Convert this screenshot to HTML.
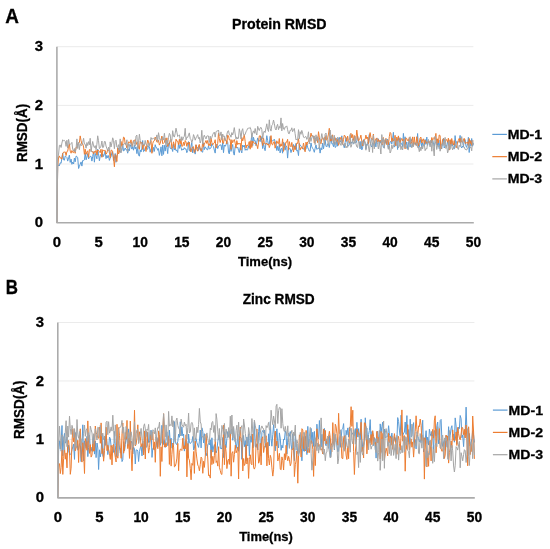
<!DOCTYPE html>
<html><head><meta charset="utf-8"><style>
html,body{margin:0;padding:0;background:#fff;}
svg{display:block;filter:blur(0.4px);}
</style></head><body>
<svg width="550" height="549" viewBox="0 0 550 549">
<rect width="550" height="549" fill="#fff"/>
<line x1="56.9" y1="164.03" x2="473.4" y2="164.03" stroke="#EBEBEB" stroke-width="1"/>
<line x1="56.9" y1="105.36" x2="473.4" y2="105.36" stroke="#EBEBEB" stroke-width="1"/>
<line x1="56.9" y1="46.69" x2="473.4" y2="46.69" stroke="#EBEBEB" stroke-width="1"/>
<polyline points="56.9,222.7 57.7,166.5 58.6,164.8 59.4,165.8 60.2,162.8 61.1,163.2 61.9,157.9 62.7,153.2 63.6,159.8 64.4,160.2 65.2,156.1 66.1,156.6 66.9,157.4 67.7,161.1 68.6,157.8 69.4,155.1 70.2,162.4 71.1,159.1 71.9,164.3 72.7,162.1 73.6,164.0 74.4,158.1 75.2,161.8 76.1,156.1 76.9,156.5 77.7,157.7 78.6,168.5 79.4,166.4 80.2,164.2 81.1,161.9 81.9,166.1 82.7,160.5 83.6,160.5 84.4,159.9 85.2,153.1 86.1,159.8 86.9,157.0 87.7,153.6 88.6,158.9 89.4,157.2 90.2,156.3 91.1,156.5 91.9,161.1 92.7,156.4 93.6,151.7 94.4,162.2 95.2,153.4 96.1,156.1 96.9,158.8 97.7,149.2 98.5,153.7 99.4,160.8 100.2,156.1 101.0,154.2 101.9,157.0 102.7,153.8 103.5,156.5 104.4,153.8 105.2,151.0 106.0,158.6 106.9,155.4 107.7,157.8 108.5,155.6 109.4,160.4 110.2,158.1 111.0,156.7 111.9,152.7 112.7,151.7 113.5,160.7 114.4,158.7 115.2,153.5 116.0,162.3 116.9,155.9 117.7,153.7 118.5,148.0 119.4,149.3 120.2,152.2 121.0,151.5 121.9,150.3 122.7,143.8 123.5,150.9 124.4,150.4 125.2,148.0 126.0,149.7 126.9,149.9 127.7,153.2 128.5,149.2 129.4,150.7 130.2,144.8 131.0,146.7 131.9,149.1 132.7,146.6 133.5,150.2 134.4,145.1 135.2,148.9 136.0,146.8 136.9,153.6 137.7,147.6 138.5,154.9 139.4,156.2 140.2,149.9 141.0,152.0 141.9,148.1 142.7,140.5 143.5,151.7 144.4,150.9 145.2,147.8 146.0,146.8 146.9,149.2 147.7,149.2 148.5,145.9 149.4,146.5 150.2,152.2 151.0,148.7 151.9,148.2 152.7,152.2 153.5,147.4 154.4,151.4 155.2,144.7 156.0,147.5 156.9,147.9 157.7,150.3 158.5,148.6 159.4,155.4 160.2,152.2 161.0,146.8 161.9,155.8 162.7,145.0 163.5,154.4 164.4,145.3 165.2,151.1 166.0,145.2 166.9,147.5 167.7,153.6 168.5,143.4 169.4,142.7 170.2,148.2 171.0,148.9 171.9,148.5 172.7,151.5 173.5,143.9 174.4,149.9 175.2,148.1 176.0,150.7 176.9,150.1 177.7,152.5 178.5,143.2 179.4,148.4 180.2,144.3 181.0,147.7 181.8,150.3 182.7,148.9 183.5,149.8 184.3,147.7 185.2,149.1 186.0,148.8 186.8,152.7 187.7,150.6 188.5,141.6 189.3,150.1 190.2,151.4 191.0,146.4 191.8,142.5 192.7,152.9 193.5,148.4 194.3,150.0 195.2,154.1 196.0,145.0 196.8,147.8 197.7,147.5 198.5,150.5 199.3,146.1 200.2,149.7 201.0,148.3 201.8,151.8 202.7,152.2 203.5,143.0 204.3,149.7 205.2,146.8 206.0,148.0 206.8,149.5 207.7,149.8 208.5,145.6 209.3,149.0 210.2,148.5 211.0,147.9 211.8,143.7 212.7,145.5 213.5,146.6 214.3,150.1 215.2,153.1 216.0,144.6 216.8,144.6 217.7,148.6 218.5,146.1 219.3,145.3 220.2,145.1 221.0,144.8 221.8,149.8 222.7,142.7 223.5,152.7 224.3,145.0 225.2,146.3 226.0,144.8 226.8,141.1 227.7,142.5 228.5,152.0 229.3,153.9 230.2,144.7 231.0,151.4 231.8,147.6 232.7,144.5 233.5,153.5 234.3,155.1 235.2,146.4 236.0,147.1 236.8,148.1 237.7,147.1 238.5,150.3 239.3,152.6 240.2,147.6 241.0,150.5 241.8,152.9 242.7,145.0 243.5,147.0 244.3,145.2 245.2,150.3 246.0,149.0 246.8,150.2 247.7,149.7 248.5,145.7 249.3,148.1 250.2,142.8 251.0,141.7 251.8,134.4 252.7,145.6 253.5,137.3 254.3,140.9 255.2,140.6 256.0,145.8 256.8,142.2 257.7,137.9 258.5,140.9 259.3,140.3 260.2,141.6 261.0,136.4 261.8,140.6 262.7,148.6 263.5,143.1 264.3,147.7 265.1,150.7 266.0,142.5 266.8,135.7 267.6,140.4 268.5,144.8 269.3,144.0 270.1,136.4 271.0,140.0 271.8,140.4 272.6,140.8 273.5,140.4 274.3,139.2 275.1,141.6 276.0,144.4 276.8,150.5 277.6,146.3 278.5,150.7 279.3,144.3 280.1,152.9 281.0,148.8 281.8,148.4 282.6,153.2 283.5,142.2 284.3,143.1 285.1,150.2 286.0,145.7 286.8,147.2 287.6,158.1 288.5,147.7 289.3,148.9 290.1,148.4 291.0,152.6 291.8,149.7 292.6,149.4 293.5,144.5 294.3,147.6 295.1,148.9 296.0,143.4 296.8,151.0 297.6,150.4 298.5,155.6 299.3,143.4 300.1,145.6 301.0,145.8 301.8,146.7 302.6,148.8 303.5,148.4 304.3,150.2 305.1,150.0 306.0,149.1 306.8,143.9 307.6,147.2 308.5,149.3 309.3,151.1 310.1,151.2 311.0,142.9 311.8,146.8 312.6,148.3 313.5,149.7 314.3,152.3 315.1,148.4 316.0,144.9 316.8,149.4 317.6,148.7 318.5,148.5 319.3,147.2 320.1,153.1 321.0,147.8 321.8,149.8 322.6,143.1 323.5,148.8 324.3,143.6 325.1,139.9 326.0,146.2 326.8,147.0 327.6,143.8 328.5,144.2 329.3,147.5 330.1,141.9 331.0,135.9 331.8,143.8 332.6,143.6 333.5,146.7 334.3,141.7 335.1,147.4 336.0,146.9 336.8,138.2 337.6,146.2 338.5,138.9 339.3,137.3 340.1,141.9 341.0,140.9 341.8,135.8 342.6,143.6 343.5,145.0 344.3,147.8 345.1,142.7 346.0,137.5 346.8,139.4 347.6,146.3 348.4,146.0 349.3,144.7 350.1,141.8 350.9,143.6 351.8,142.0 352.6,141.7 353.4,143.9 354.3,143.0 355.1,142.1 355.9,143.1 356.8,141.0 357.6,136.0 358.4,140.6 359.3,142.6 360.1,148.9 360.9,141.4 361.8,149.9 362.6,147.9 363.4,139.7 364.3,140.2 365.1,143.3 365.9,149.0 366.8,144.1 367.6,145.2 368.4,140.4 369.3,134.5 370.1,142.0 370.9,145.6 371.8,147.0 372.6,142.9 373.4,143.4 374.3,146.9 375.1,142.3 375.9,146.9 376.8,138.7 377.6,138.9 378.4,138.8 379.3,144.4 380.1,140.8 380.9,143.2 381.8,144.1 382.6,143.9 383.4,147.4 384.3,147.9 385.1,139.8 385.9,143.4 386.8,141.9 387.6,139.0 388.4,149.0 389.3,145.5 390.1,142.0 390.9,141.2 391.8,144.0 392.6,138.9 393.4,132.3 394.3,147.1 395.1,146.0 395.9,139.7 396.8,141.0 397.6,149.5 398.4,137.7 399.3,140.5 400.1,137.7 400.9,144.0 401.8,143.7 402.6,146.7 403.4,133.4 404.3,143.2 405.1,136.8 405.9,145.0 406.8,142.0 407.6,148.7 408.4,144.0 409.3,139.0 410.1,147.1 410.9,138.7 411.8,141.4 412.6,146.4 413.4,144.4 414.3,144.2 415.1,142.7 415.9,144.5 416.8,145.6 417.6,133.5 418.4,146.3 419.3,147.2 420.1,142.7 420.9,139.3 421.8,148.1 422.6,142.5 423.4,144.9 424.3,146.1 425.1,139.4 425.9,144.4 426.8,137.1 427.6,145.3 428.4,141.1 429.3,143.3 430.1,145.2 430.9,140.4 431.8,143.1 432.6,140.3 433.4,142.7 434.2,146.4 435.1,142.9 435.9,142.3 436.7,139.0 437.6,145.8 438.4,142.6 439.2,148.7 440.1,140.1 440.9,146.4 441.7,149.0 442.6,142.7 443.4,138.4 444.2,148.0 445.1,146.4 445.9,145.1 446.7,146.5 447.6,141.0 448.4,145.4 449.2,145.0 450.1,140.3 450.9,145.2 451.7,140.8 452.6,145.9 453.4,146.8 454.2,149.1 455.1,135.6 455.9,143.6 456.7,141.5 457.6,142.5 458.4,141.8 459.2,142.2 460.1,135.4 460.9,146.2 461.7,148.0 462.6,146.0 463.4,147.2 464.2,139.6 465.1,139.4 465.9,145.8 466.7,147.4 467.6,143.6 468.4,137.3 469.2,152.5 470.1,140.4 470.9,146.2 471.7,138.5 472.6,146.2 473.4,143.4" fill="none" stroke="#5B9BD5" stroke-width="1.0" stroke-linejoin="round" stroke-opacity="1"/>
<polyline points="56.9,222.7 57.7,166.9 58.6,157.1 59.4,155.9 60.2,158.2 61.1,157.7 61.9,159.2 62.7,153.6 63.6,152.1 64.4,152.1 65.2,151.9 66.1,155.5 66.9,151.5 67.7,151.2 68.6,146.2 69.4,144.0 70.2,151.1 71.1,153.2 71.9,150.5 72.7,152.3 73.6,152.6 74.4,149.9 75.2,153.3 76.1,147.2 76.9,147.4 77.7,143.8 78.6,143.0 79.4,142.6 80.2,135.9 81.1,140.8 81.9,144.3 82.7,143.8 83.6,147.0 84.4,154.3 85.2,149.2 86.1,154.4 86.9,151.9 87.7,150.8 88.6,157.4 89.4,149.6 90.2,149.5 91.1,150.7 91.9,151.7 92.7,151.6 93.6,153.9 94.4,151.4 95.2,152.6 96.1,150.3 96.9,155.1 97.7,150.0 98.5,150.4 99.4,151.5 100.2,152.7 101.0,149.2 101.9,157.3 102.7,149.7 103.5,150.6 104.4,150.5 105.2,150.3 106.0,154.1 106.9,152.8 107.7,149.6 108.5,150.5 109.4,151.4 110.2,157.7 111.0,150.3 111.9,150.2 112.7,153.0 113.5,158.0 114.4,166.8 115.2,154.7 116.0,155.8 116.9,161.5 117.7,148.0 118.5,154.0 119.4,152.4 120.2,149.2 121.0,141.4 121.9,146.5 122.7,143.3 123.5,137.1 124.4,137.7 125.2,143.9 126.0,144.4 126.9,148.1 127.7,146.0 128.5,141.9 129.4,142.0 130.2,143.0 131.0,139.8 131.9,146.2 132.7,143.6 133.5,140.7 134.4,141.3 135.2,139.5 136.0,141.9 136.9,144.5 137.7,142.1 138.5,147.0 139.4,149.3 140.2,141.2 141.0,143.5 141.9,142.2 142.7,149.5 143.5,144.6 144.4,145.5 145.2,146.4 146.0,151.5 146.9,144.5 147.7,140.0 148.5,141.9 149.4,145.4 150.2,143.3 151.0,140.5 151.9,153.3 152.7,143.7 153.5,141.2 154.4,140.7 155.2,137.0 156.0,139.1 156.9,142.1 157.7,142.1 158.5,140.3 159.4,145.1 160.2,143.3 161.0,139.9 161.9,136.0 162.7,143.7 163.5,143.3 164.4,142.4 165.2,138.2 166.0,143.2 166.9,137.8 167.7,146.6 168.5,143.8 169.4,143.8 170.2,140.2 171.0,139.3 171.9,148.5 172.7,146.4 173.5,141.8 174.4,145.4 175.2,148.6 176.0,139.2 176.9,141.2 177.7,141.2 178.5,144.7 179.4,139.2 180.2,143.9 181.0,139.0 181.8,146.3 182.7,146.1 183.5,142.2 184.3,145.5 185.2,140.5 186.0,142.0 186.8,146.3 187.7,142.7 188.5,144.2 189.3,142.0 190.2,150.1 191.0,151.9 191.8,148.4 192.7,147.1 193.5,146.7 194.3,152.5 195.2,150.7 196.0,144.6 196.8,149.4 197.7,151.2 198.5,146.0 199.3,144.4 200.2,148.6 201.0,151.2 201.8,150.0 202.7,142.0 203.5,146.7 204.3,144.1 205.2,142.4 206.0,140.5 206.8,143.5 207.7,140.5 208.5,145.5 209.3,143.6 210.2,146.0 211.0,138.1 211.8,142.4 212.7,144.9 213.5,143.5 214.3,143.0 215.2,139.7 216.0,148.0 216.8,146.0 217.7,143.5 218.5,132.9 219.3,138.7 220.2,142.5 221.0,139.5 221.8,134.6 222.7,142.9 223.5,143.4 224.3,137.7 225.2,140.3 226.0,139.6 226.8,143.9 227.7,135.0 228.5,135.8 229.3,139.9 230.2,139.5 231.0,149.4 231.8,139.7 232.7,142.7 233.5,140.4 234.3,139.5 235.2,143.2 236.0,148.1 236.8,140.6 237.7,144.6 238.5,143.1 239.3,144.1 240.2,143.1 241.0,150.2 241.8,137.4 242.7,140.9 243.5,137.8 244.3,134.6 245.2,141.7 246.0,148.3 246.8,145.0 247.7,146.1 248.5,143.6 249.3,141.5 250.2,149.2 251.0,140.7 251.8,147.5 252.7,141.0 253.5,142.6 254.3,143.4 255.2,142.6 256.0,144.4 256.8,144.7 257.7,148.7 258.5,142.8 259.3,136.0 260.2,135.6 261.0,138.1 261.8,140.4 262.7,145.5 263.5,137.9 264.3,143.4 265.1,143.6 266.0,144.4 266.8,143.1 267.6,145.1 268.5,143.9 269.3,147.6 270.1,145.1 271.0,135.6 271.8,144.2 272.6,144.9 273.5,142.1 274.3,141.5 275.1,148.2 276.0,144.9 276.8,140.8 277.6,143.2 278.5,143.7 279.3,138.5 280.1,146.7 281.0,143.9 281.8,146.1 282.6,138.8 283.5,151.4 284.3,146.7 285.1,146.2 286.0,141.9 286.8,142.1 287.6,139.3 288.5,150.1 289.3,141.6 290.1,145.4 291.0,146.8 291.8,142.4 292.6,147.8 293.5,152.0 294.3,145.8 295.1,149.9 296.0,146.8 296.8,143.1 297.6,143.4 298.5,138.7 299.3,145.3 300.1,150.1 301.0,147.3 301.8,147.9 302.6,149.0 303.5,143.0 304.3,147.0 305.1,151.8 306.0,142.1 306.8,145.1 307.6,142.0 308.5,141.5 309.3,138.1 310.1,138.9 311.0,133.1 311.8,136.1 312.6,136.2 313.5,136.1 314.3,142.9 315.1,138.2 316.0,138.6 316.8,136.9 317.6,142.6 318.5,131.7 319.3,137.2 320.1,142.0 321.0,143.8 321.8,138.7 322.6,138.0 323.5,140.2 324.3,137.3 325.1,140.0 326.0,135.6 326.8,140.3 327.6,137.8 328.5,134.1 329.3,128.3 330.1,141.3 331.0,139.3 331.8,140.7 332.6,134.8 333.5,141.8 334.3,139.4 335.1,137.7 336.0,141.2 336.8,141.1 337.6,139.4 338.5,145.3 339.3,142.9 340.1,139.1 341.0,137.2 341.8,138.5 342.6,144.3 343.5,139.6 344.3,135.1 345.1,136.0 346.0,138.4 346.8,141.4 347.6,136.0 348.4,140.5 349.3,142.7 350.1,141.4 350.9,133.3 351.8,137.9 352.6,134.5 353.4,140.5 354.3,135.5 355.1,141.1 355.9,139.6 356.8,130.1 357.6,136.4 358.4,141.1 359.3,139.6 360.1,138.2 360.9,135.1 361.8,141.3 362.6,145.9 363.4,140.7 364.3,139.7 365.1,139.4 365.9,135.1 366.8,138.8 367.6,137.1 368.4,144.1 369.3,137.0 370.1,132.6 370.9,137.5 371.8,139.5 372.6,139.9 373.4,134.1 374.3,143.9 375.1,141.0 375.9,138.9 376.8,137.9 377.6,142.2 378.4,139.5 379.3,141.7 380.1,140.2 380.9,141.2 381.8,144.9 382.6,140.8 383.4,137.5 384.3,144.3 385.1,141.6 385.9,138.4 386.8,144.7 387.6,140.1 388.4,144.7 389.3,136.7 390.1,132.4 390.9,133.5 391.8,141.7 392.6,138.2 393.4,140.5 394.3,140.6 395.1,135.3 395.9,145.8 396.8,137.1 397.6,141.2 398.4,135.9 399.3,140.3 400.1,143.5 400.9,140.0 401.8,138.4 402.6,140.9 403.4,139.3 404.3,143.0 405.1,148.9 405.9,137.9 406.8,138.6 407.6,140.6 408.4,140.9 409.3,137.4 410.1,142.9 410.9,143.8 411.8,141.9 412.6,136.9 413.4,146.3 414.3,136.9 415.1,143.6 415.9,145.3 416.8,136.7 417.6,141.7 418.4,146.1 419.3,142.7 420.1,138.0 420.9,137.1 421.8,143.0 422.6,139.9 423.4,138.8 424.3,143.8 425.1,140.2 425.9,141.6 426.8,143.5 427.6,143.3 428.4,141.3 429.3,141.4 430.1,143.6 430.9,143.1 431.8,137.5 432.6,140.8 433.4,138.4 434.2,137.3 435.1,139.5 435.9,133.4 436.7,144.7 437.6,138.8 438.4,142.9 439.2,135.0 440.1,135.5 440.9,148.9 441.7,145.3 442.6,139.4 443.4,138.9 444.2,139.1 445.1,142.1 445.9,140.2 446.7,139.5 447.6,142.2 448.4,138.1 449.2,150.1 450.1,139.6 450.9,145.7 451.7,138.5 452.6,142.8 453.4,145.2 454.2,140.6 455.1,145.3 455.9,145.3 456.7,147.7 457.6,142.1 458.4,140.3 459.2,138.4 460.1,142.6 460.9,138.3 461.7,142.1 462.6,142.5 463.4,140.1 464.2,138.3 465.1,143.4 465.9,143.1 466.7,142.8 467.6,141.9 468.4,145.5 469.2,138.5 470.1,143.7 470.9,140.6 471.7,145.3 472.6,141.0 473.4,140.9" fill="none" stroke="#ED7D31" stroke-width="1.0" stroke-linejoin="round" stroke-opacity="1"/>
<polyline points="56.9,222.7 57.7,158.2 58.6,154.1 59.4,145.4 60.2,145.0 61.1,147.5 61.9,143.1 62.7,139.8 63.6,140.7 64.4,140.4 65.2,141.2 66.1,146.4 66.9,140.2 67.7,148.1 68.6,139.4 69.4,144.0 70.2,144.6 71.1,143.5 71.9,142.4 72.7,149.2 73.6,151.0 74.4,148.5 75.2,152.1 76.1,148.2 76.9,138.9 77.7,148.5 78.6,142.3 79.4,149.7 80.2,143.6 81.1,145.8 81.9,144.9 82.7,142.6 83.6,138.3 84.4,144.0 85.2,144.2 86.1,148.2 86.9,142.5 87.7,145.6 88.6,141.6 89.4,144.8 90.2,138.3 91.1,151.9 91.9,145.7 92.7,141.5 93.6,145.9 94.4,147.6 95.2,145.6 96.1,149.7 96.9,144.2 97.7,135.8 98.5,140.5 99.4,148.7 100.2,147.8 101.0,146.1 101.9,141.0 102.7,147.7 103.5,147.2 104.4,141.5 105.2,141.5 106.0,146.0 106.9,148.7 107.7,150.3 108.5,147.2 109.4,152.8 110.2,141.9 111.0,147.0 111.9,142.9 112.7,137.8 113.5,140.3 114.4,148.7 115.2,141.3 116.0,140.2 116.9,147.1 117.7,147.8 118.5,144.7 119.4,150.1 120.2,138.9 121.0,152.9 121.9,148.2 122.7,145.1 123.5,144.9 124.4,143.4 125.2,143.0 126.0,144.7 126.9,139.8 127.7,151.7 128.5,143.8 129.4,146.4 130.2,143.3 131.0,142.9 131.9,147.0 132.7,146.0 133.5,140.7 134.4,142.3 135.2,146.0 136.0,136.1 136.9,135.1 137.7,148.7 138.5,142.3 139.4,134.2 140.2,140.4 141.0,142.5 141.9,144.0 142.7,145.2 143.5,143.9 144.4,145.1 145.2,140.4 146.0,144.5 146.9,144.6 147.7,147.3 148.5,143.1 149.4,145.6 150.2,142.5 151.0,137.5 151.9,139.5 152.7,138.4 153.5,138.4 154.4,139.0 155.2,139.1 156.0,139.3 156.9,134.9 157.7,141.5 158.5,132.7 159.4,137.4 160.2,140.3 161.0,139.3 161.9,140.0 162.7,136.9 163.5,140.1 164.4,133.3 165.2,140.2 166.0,145.6 166.9,140.0 167.7,144.6 168.5,137.4 169.4,133.4 170.2,134.9 171.0,142.1 171.9,140.0 172.7,130.7 173.5,136.0 174.4,137.1 175.2,133.3 176.0,128.2 176.9,132.3 177.7,136.5 178.5,135.7 179.4,134.8 180.2,139.2 181.0,140.8 181.8,136.7 182.7,140.3 183.5,137.1 184.3,136.5 185.2,128.3 186.0,139.9 186.8,137.2 187.7,137.4 188.5,135.1 189.3,132.9 190.2,138.5 191.0,139.7 191.8,142.6 192.7,140.0 193.5,134.6 194.3,136.4 195.2,140.2 196.0,137.9 196.8,136.4 197.7,134.6 198.5,138.6 199.3,137.3 200.2,143.0 201.0,140.5 201.8,130.3 202.7,144.1 203.5,137.3 204.3,135.2 205.2,137.3 206.0,138.9 206.8,136.1 207.7,135.8 208.5,136.0 209.3,142.5 210.2,136.2 211.0,138.7 211.8,137.5 212.7,134.6 213.5,133.1 214.3,132.1 215.2,137.1 216.0,131.9 216.8,130.9 217.7,131.0 218.5,130.0 219.3,135.5 220.2,135.6 221.0,131.9 221.8,139.8 222.7,134.0 223.5,136.6 224.3,136.0 225.2,140.9 226.0,137.8 226.8,134.5 227.7,131.2 228.5,130.7 229.3,134.6 230.2,134.9 231.0,137.2 231.8,132.6 232.7,135.0 233.5,131.8 234.3,127.6 235.2,134.0 236.0,139.3 236.8,136.9 237.7,139.0 238.5,138.0 239.3,128.8 240.2,132.7 241.0,139.0 241.8,131.0 242.7,128.7 243.5,134.5 244.3,135.5 245.2,134.2 246.0,131.8 246.8,130.4 247.7,128.4 248.5,128.2 249.3,128.2 250.2,127.4 251.0,129.9 251.8,137.8 252.7,132.6 253.5,130.9 254.3,133.3 255.2,128.5 256.0,133.0 256.8,135.0 257.7,126.3 258.5,129.0 259.3,130.6 260.2,127.9 261.0,127.3 261.8,129.5 262.7,139.2 263.5,132.3 264.3,131.1 265.1,132.6 266.0,127.8 266.8,123.8 267.6,129.4 268.5,131.5 269.3,119.8 270.1,128.5 271.0,131.1 271.8,125.5 272.6,124.6 273.5,120.0 274.3,123.3 275.1,128.2 276.0,130.0 276.8,126.2 277.6,124.3 278.5,129.7 279.3,126.4 280.1,128.2 281.0,117.9 281.8,130.9 282.6,123.5 283.5,129.0 284.3,129.7 285.1,127.0 286.0,126.8 286.8,125.9 287.6,129.7 288.5,133.5 289.3,133.7 290.1,130.3 291.0,130.4 291.8,127.8 292.6,131.7 293.5,129.7 294.3,128.4 295.1,133.6 296.0,139.9 296.8,139.1 297.6,140.4 298.5,129.7 299.3,138.9 300.1,131.7 301.0,134.3 301.8,130.4 302.6,133.1 303.5,137.2 304.3,137.7 305.1,136.8 306.0,136.6 306.8,139.4 307.6,137.7 308.5,131.8 309.3,144.0 310.1,137.0 311.0,141.4 311.8,137.6 312.6,135.3 313.5,138.7 314.3,135.9 315.1,144.6 316.0,134.8 316.8,141.1 317.6,136.7 318.5,138.4 319.3,148.5 320.1,141.9 321.0,138.4 321.8,133.6 322.6,138.3 323.5,138.5 324.3,144.6 325.1,134.3 326.0,133.0 326.8,139.5 327.6,140.5 328.5,145.6 329.3,136.6 330.1,130.0 331.0,137.3 331.8,135.4 332.6,138.1 333.5,143.7 334.3,135.3 335.1,144.7 336.0,141.0 336.8,139.3 337.6,137.2 338.5,138.9 339.3,139.1 340.1,143.3 341.0,145.4 341.8,140.5 342.6,143.5 343.5,145.7 344.3,145.7 345.1,143.0 346.0,148.0 346.8,146.3 347.6,147.4 348.4,140.9 349.3,140.2 350.1,134.5 350.9,147.3 351.8,144.5 352.6,138.8 353.4,143.0 354.3,143.5 355.1,136.2 355.9,143.7 356.8,146.8 357.6,147.5 358.4,141.6 359.3,141.8 360.1,148.0 360.9,146.7 361.8,141.3 362.6,141.2 363.4,145.8 364.3,141.3 365.1,141.6 365.9,150.2 366.8,145.0 367.6,142.4 368.4,146.1 369.3,151.9 370.1,145.3 370.9,141.6 371.8,138.7 372.6,152.5 373.4,135.2 374.3,148.8 375.1,141.2 375.9,140.2 376.8,141.2 377.6,144.2 378.4,149.0 379.3,142.5 380.1,147.4 380.9,154.0 381.8,134.6 382.6,142.3 383.4,138.2 384.3,148.2 385.1,139.5 385.9,139.1 386.8,139.2 387.6,145.0 388.4,149.3 389.3,145.6 390.1,153.0 390.9,151.2 391.8,144.7 392.6,148.6 393.4,145.6 394.3,145.4 395.1,138.0 395.9,140.3 396.8,145.2 397.6,140.7 398.4,147.9 399.3,146.3 400.1,141.8 400.9,149.7 401.8,146.2 402.6,150.0 403.4,144.8 404.3,139.3 405.1,148.0 405.9,144.4 406.8,148.5 407.6,149.5 408.4,149.8 409.3,140.0 410.1,136.7 410.9,143.6 411.8,147.9 412.6,142.8 413.4,146.6 414.3,142.5 415.1,144.3 415.9,144.4 416.8,143.2 417.6,147.6 418.4,146.9 419.3,151.7 420.1,147.1 420.9,150.7 421.8,146.0 422.6,149.0 423.4,145.2 424.3,143.9 425.1,150.7 425.9,148.6 426.8,149.0 427.6,142.9 428.4,139.4 429.3,142.6 430.1,146.9 430.9,140.4 431.8,151.2 432.6,140.3 433.4,148.1 434.2,155.9 435.1,136.1 435.9,140.0 436.7,149.5 437.6,145.2 438.4,146.6 439.2,145.5 440.1,151.2 440.9,148.3 441.7,144.2 442.6,145.1 443.4,141.5 444.2,145.6 445.1,137.4 445.9,148.5 446.7,145.0 447.6,152.9 448.4,150.5 449.2,141.2 450.1,149.4 450.9,144.1 451.7,146.3 452.6,149.9 453.4,147.3 454.2,148.0 455.1,147.9 455.9,143.4 456.7,143.8 457.6,148.3 458.4,149.5 459.2,145.2 460.1,146.6 460.9,142.5 461.7,136.6 462.6,143.2 463.4,146.4 464.2,146.9 465.1,149.4 465.9,149.6 466.7,150.0 467.6,147.8 468.4,147.9 469.2,143.7 470.1,147.8 470.9,147.1 471.7,150.8 472.6,140.4 473.4,144.6" fill="none" stroke="#A5A5A5" stroke-width="1.0" stroke-linejoin="round" stroke-opacity="1"/>
<line x1="56.9" y1="46.69" x2="56.9" y2="222.70" stroke="#ABABAB" stroke-width="1.6"/>
<line x1="56.5" y1="222.70" x2="473.8" y2="222.70" stroke="#ABABAB" stroke-width="1.6"/>
<line x1="57.8" y1="439.40" x2="474.4" y2="439.40" stroke="#EBEBEB" stroke-width="1"/>
<line x1="57.8" y1="380.95" x2="474.4" y2="380.95" stroke="#EBEBEB" stroke-width="1"/>
<line x1="57.8" y1="322.50" x2="474.4" y2="322.50" stroke="#EBEBEB" stroke-width="1"/>
<polyline points="57.8,497.9 58.6,450.8 59.5,440.7 60.3,448.9 61.1,442.4 62.0,425.5 62.8,455.8 63.6,439.3 64.5,433.4 65.3,443.2 66.1,441.3 67.0,437.0 67.8,452.4 68.6,445.1 69.5,455.0 70.3,454.4 71.1,453.8 72.0,449.8 72.8,446.9 73.6,444.1 74.5,459.4 75.3,432.5 76.1,436.7 77.0,440.7 77.8,450.2 78.6,448.9 79.5,443.4 80.3,444.0 81.1,461.6 82.0,443.0 82.8,424.8 83.6,460.9 84.5,440.8 85.3,444.0 86.1,448.4 87.0,436.3 87.8,456.6 88.6,447.3 89.5,435.4 90.3,448.2 91.1,451.3 92.0,447.1 92.8,451.4 93.6,435.0 94.5,454.1 95.3,440.9 96.1,457.6 97.0,443.0 97.8,448.0 98.6,469.5 99.5,449.8 100.3,456.9 101.1,452.3 102.0,435.0 102.8,455.8 103.6,457.4 104.5,436.3 105.3,445.4 106.1,434.2 107.0,443.4 107.8,454.6 108.6,448.7 109.5,437.1 110.3,438.4 111.1,446.5 112.0,446.9 112.8,448.3 113.6,452.4 114.5,431.5 115.3,445.7 116.1,456.8 117.0,452.4 117.8,441.7 118.6,441.3 119.5,447.9 120.3,453.1 121.1,447.7 122.0,461.6 122.8,459.8 123.6,441.7 124.5,450.8 125.3,444.4 126.1,436.5 127.0,440.6 127.8,446.4 128.6,428.9 129.5,439.6 130.3,449.4 131.1,441.1 132.0,443.0 132.8,454.0 133.6,447.2 134.5,448.5 135.3,464.0 136.1,450.2 137.0,449.8 137.8,451.1 138.6,461.5 139.5,451.5 140.3,447.8 141.1,446.2 142.0,455.9 142.8,441.0 143.6,454.7 144.5,446.9 145.3,432.3 146.1,447.3 147.0,446.5 147.8,432.2 148.6,442.6 149.5,442.2 150.3,437.8 151.1,430.2 152.0,457.4 152.8,448.3 153.6,448.9 154.5,449.7 155.3,447.8 156.1,447.4 157.0,437.6 157.8,446.9 158.6,439.1 159.5,435.9 160.3,445.3 161.1,438.9 161.9,425.3 162.8,435.2 163.6,444.5 164.4,440.5 165.3,447.4 166.1,437.9 166.9,431.8 167.8,445.7 168.6,441.8 169.4,430.1 170.3,442.7 171.1,438.1 171.9,448.1 172.8,447.3 173.6,444.6 174.4,421.6 175.3,441.1 176.1,444.0 176.9,444.6 177.8,441.3 178.6,434.1 179.4,437.3 180.3,421.8 181.1,435.8 181.9,426.8 182.8,435.8 183.6,434.0 184.4,451.1 185.3,441.7 186.1,440.3 186.9,441.6 187.8,457.9 188.6,434.0 189.4,442.3 190.3,443.6 191.1,442.2 191.9,441.8 192.8,436.5 193.6,450.1 194.4,448.6 195.3,438.2 196.1,438.4 196.9,442.8 197.8,445.0 198.6,447.4 199.4,441.1 200.3,430.0 201.1,447.9 201.9,427.8 202.8,431.6 203.6,443.0 204.4,433.7 205.3,451.8 206.1,455.9 206.9,452.6 207.8,444.8 208.6,443.4 209.4,444.8 210.3,439.8 211.1,458.3 211.9,437.8 212.8,452.1 213.6,447.1 214.4,444.5 215.3,450.6 216.1,453.0 216.9,450.2 217.8,441.5 218.6,435.5 219.4,435.1 220.3,448.4 221.1,448.0 221.9,449.1 222.8,437.5 223.6,457.6 224.4,431.7 225.3,443.8 226.1,447.6 226.9,438.4 227.8,431.6 228.6,436.8 229.4,431.2 230.3,438.5 231.1,429.9 231.9,428.9 232.8,440.3 233.6,428.3 234.4,438.0 235.3,439.6 236.1,448.4 236.9,443.9 237.8,434.3 238.6,451.3 239.4,436.2 240.3,437.2 241.1,438.0 241.9,459.3 242.8,443.4 243.6,435.4 244.4,446.7 245.3,440.5 246.1,461.1 246.9,437.0 247.8,446.0 248.6,433.8 249.4,455.9 250.3,436.3 251.1,442.3 251.9,434.0 252.8,448.0 253.6,446.8 254.4,422.1 255.3,446.1 256.1,447.4 256.9,443.8 257.8,449.9 258.6,431.5 259.4,425.0 260.3,445.3 261.1,456.1 261.9,432.3 262.8,430.4 263.6,432.7 264.4,430.1 265.3,447.3 266.1,443.0 266.9,453.0 267.8,454.3 268.6,433.8 269.4,446.0 270.3,421.7 271.1,438.3 271.9,446.2 272.8,434.5 273.6,424.7 274.4,435.1 275.3,450.9 276.1,438.7 276.9,428.8 277.8,444.0 278.6,448.0 279.4,432.9 280.3,438.9 281.1,450.3 281.9,445.2 282.8,447.9 283.6,439.1 284.4,439.9 285.3,430.9 286.1,433.8 286.9,453.9 287.8,438.8 288.6,433.0 289.4,436.3 290.3,431.6 291.1,444.9 291.9,449.7 292.8,433.8 293.6,449.6 294.4,460.7 295.3,434.1 296.1,446.7 296.9,444.3 297.8,453.6 298.6,453.9 299.4,452.4 300.3,445.4 301.1,438.3 301.9,460.8 302.8,436.5 303.6,451.0 304.4,451.4 305.3,436.3 306.1,441.3 306.9,454.6 307.8,426.4 308.6,447.1 309.4,439.5 310.3,439.1 311.1,428.4 311.9,443.6 312.8,432.2 313.6,446.4 314.4,431.4 315.3,446.4 316.1,444.3 316.9,424.2 317.8,436.0 318.6,439.0 319.4,420.5 320.3,435.1 321.1,446.9 321.9,434.3 322.8,450.0 323.6,431.1 324.4,428.4 325.3,443.8 326.1,445.8 326.9,438.8 327.8,439.5 328.6,448.3 329.4,435.5 330.3,457.3 331.1,445.1 331.9,443.6 332.8,442.2 333.6,436.9 334.4,450.0 335.3,435.0 336.1,440.4 336.9,445.0 337.8,451.9 338.6,450.8 339.4,436.9 340.3,447.3 341.1,439.1 341.9,429.3 342.8,428.5 343.6,423.6 344.4,439.7 345.3,448.4 346.1,430.3 346.9,434.8 347.8,427.9 348.6,437.1 349.4,427.3 350.3,429.4 351.1,430.8 351.9,432.8 352.8,433.9 353.6,435.4 354.4,435.6 355.3,428.6 356.1,441.5 356.9,422.3 357.8,437.1 358.6,428.6 359.4,437.4 360.3,439.7 361.1,419.2 361.9,438.3 362.8,449.0 363.6,444.9 364.4,440.8 365.3,417.8 366.1,433.2 366.9,428.1 367.8,445.2 368.6,434.5 369.4,430.4 370.2,419.6 371.1,441.4 371.9,431.6 372.7,433.3 373.6,445.6 374.4,437.6 375.2,439.0 376.1,458.1 376.9,433.1 377.7,431.1 378.6,439.9 379.4,449.0 380.2,423.9 381.1,432.6 381.9,426.5 382.7,422.2 383.6,439.6 384.4,429.0 385.2,437.7 386.1,436.9 386.9,437.0 387.7,436.2 388.6,425.7 389.4,433.9 390.2,437.2 391.1,438.7 391.9,433.1 392.7,444.0 393.6,441.4 394.4,436.9 395.2,441.3 396.1,437.5 396.9,441.7 397.7,417.6 398.6,421.5 399.4,430.1 400.2,435.7 401.1,415.2 401.9,430.6 402.7,436.0 403.6,432.8 404.4,432.4 405.2,422.0 406.1,434.4 406.9,415.6 407.7,441.8 408.6,429.6 409.4,444.3 410.2,419.2 411.1,436.9 411.9,436.1 412.7,426.7 413.6,422.6 414.4,444.6 415.2,439.5 416.1,448.9 416.9,435.3 417.7,436.2 418.6,438.6 419.4,442.0 420.2,439.5 421.1,442.7 421.9,430.8 422.7,420.2 423.6,452.0 424.4,437.8 425.2,439.3 426.1,430.7 426.9,443.6 427.7,437.2 428.6,445.1 429.4,429.2 430.2,433.3 431.1,436.2 431.9,431.4 432.7,436.8 433.6,449.9 434.4,430.5 435.2,431.5 436.1,435.8 436.9,425.3 437.7,422.0 438.6,443.9 439.4,443.0 440.2,420.5 441.1,419.4 441.9,440.1 442.7,446.5 443.6,441.8 444.4,440.0 445.2,450.3 446.1,435.7 446.9,446.9 447.7,447.3 448.6,426.7 449.4,440.2 450.2,435.5 451.1,428.2 451.9,425.7 452.7,436.6 453.6,434.0 454.4,442.2 455.2,417.9 456.1,426.1 456.9,444.0 457.7,435.0 458.6,427.1 459.4,428.6 460.2,415.5 461.1,418.7 461.9,437.7 462.7,435.1 463.6,446.6 464.4,432.7 465.2,432.2 466.1,407.1 466.9,430.1 467.7,454.0 468.6,442.4 469.4,433.5 470.2,446.0 471.1,443.4 471.9,438.2 472.7,430.7 473.6,434.9 474.4,442.5" fill="none" stroke="#5B9BD5" stroke-width="1.0" stroke-linejoin="round" stroke-opacity="1"/>
<polyline points="57.8,497.9 58.6,463.0 59.5,464.0 60.3,473.6 61.1,467.5 62.0,450.0 62.8,474.4 63.6,458.7 64.5,447.7 65.3,459.2 66.1,452.9 67.0,467.9 67.8,440.9 68.6,440.5 69.5,450.3 70.3,474.3 71.1,468.2 72.0,441.9 72.8,428.7 73.6,441.9 74.5,430.2 75.3,450.8 76.1,448.0 77.0,445.5 77.8,440.3 78.6,462.5 79.5,435.9 80.3,428.8 81.1,456.9 82.0,462.1 82.8,442.7 83.6,452.5 84.5,473.5 85.3,438.5 86.1,442.6 87.0,450.3 87.8,420.9 88.6,441.0 89.5,453.4 90.3,444.6 91.1,457.1 92.0,455.0 92.8,441.4 93.6,451.0 94.5,450.8 95.3,426.0 96.1,432.9 97.0,434.3 97.8,437.6 98.6,438.4 99.5,427.1 100.3,443.3 101.1,422.9 102.0,453.7 102.8,448.6 103.6,461.2 104.5,450.4 105.3,439.2 106.1,427.2 107.0,450.7 107.8,445.2 108.6,448.9 109.5,453.7 110.3,459.4 111.1,445.4 112.0,464.9 112.8,445.3 113.6,444.4 114.5,452.2 115.3,457.1 116.1,462.0 117.0,424.3 117.8,458.2 118.6,427.6 119.5,435.7 120.3,447.8 121.1,458.3 122.0,433.6 122.8,423.0 123.6,453.2 124.5,448.8 125.3,432.5 126.1,439.2 127.0,420.4 127.8,448.6 128.6,438.4 129.5,458.4 130.3,421.1 131.1,450.5 132.0,470.8 132.8,448.4 133.6,446.3 134.5,410.2 135.3,445.9 136.1,444.5 137.0,437.2 137.8,424.8 138.6,442.9 139.5,431.8 140.3,436.8 141.1,446.8 142.0,443.4 142.8,443.7 143.6,454.8 144.5,430.9 145.3,459.0 146.1,431.8 147.0,431.6 147.8,443.9 148.6,453.1 149.5,447.6 150.3,438.9 151.1,434.8 152.0,439.8 152.8,432.0 153.6,449.4 154.5,441.9 155.3,462.3 156.1,436.9 157.0,441.6 157.8,448.7 158.6,430.9 159.5,434.6 160.3,476.3 161.1,446.8 161.9,461.5 162.8,433.3 163.6,413.7 164.4,447.1 165.3,443.5 166.1,447.0 166.9,442.8 167.8,441.2 168.6,435.8 169.4,464.4 170.3,439.4 171.1,466.1 171.9,454.6 172.8,443.0 173.6,447.1 174.4,466.9 175.3,466.1 176.1,463.2 176.9,458.1 177.8,443.4 178.6,470.7 179.4,452.7 180.3,449.1 181.1,449.4 181.9,450.5 182.8,438.2 183.6,449.1 184.4,445.8 185.3,448.9 186.1,434.7 186.9,476.9 187.8,443.5 188.6,458.4 189.4,460.1 190.3,468.4 191.1,479.8 191.9,463.4 192.8,465.3 193.6,451.5 194.4,473.4 195.3,441.2 196.1,451.7 196.9,458.9 197.8,465.1 198.6,466.6 199.4,470.8 200.3,464.3 201.1,457.1 201.9,458.5 202.8,473.3 203.6,461.2 204.4,467.4 205.3,455.5 206.1,434.1 206.9,446.6 207.8,459.0 208.6,475.7 209.4,474.9 210.3,478.1 211.1,449.8 211.9,464.6 212.8,456.3 213.6,463.5 214.4,455.8 215.3,439.5 216.1,462.5 216.9,460.8 217.8,466.1 218.6,446.7 219.4,467.3 220.3,470.6 221.1,473.9 221.9,474.5 222.8,452.2 223.6,425.1 224.4,464.7 225.3,445.5 226.1,451.9 226.9,468.6 227.8,460.4 228.6,459.1 229.4,464.4 230.3,433.8 231.1,476.2 231.9,453.3 232.8,451.6 233.6,462.2 234.4,454.6 235.3,445.2 236.1,452.9 236.9,450.5 237.8,446.9 238.6,479.0 239.4,440.4 240.3,427.0 241.1,441.1 241.9,442.1 242.8,471.0 243.6,458.5 244.4,465.5 245.3,463.5 246.1,444.8 246.9,464.0 247.8,457.9 248.6,478.4 249.4,459.7 250.3,454.8 251.1,463.8 251.9,464.8 252.8,433.9 253.6,467.7 254.4,469.1 255.3,466.4 256.1,442.2 256.9,429.0 257.8,448.7 258.6,463.2 259.4,461.2 260.3,443.2 261.1,464.9 261.9,438.9 262.8,436.7 263.6,452.5 264.4,447.2 265.3,445.5 266.1,435.7 266.9,465.9 267.8,442.3 268.6,458.6 269.4,465.0 270.3,455.3 271.1,458.2 271.9,467.8 272.8,476.1 273.6,469.2 274.4,440.0 275.3,431.1 276.1,445.9 276.9,441.1 277.8,461.0 278.6,457.8 279.4,453.3 280.3,469.2 281.1,469.8 281.9,456.9 282.8,460.7 283.6,470.0 284.4,453.7 285.3,459.9 286.1,445.3 286.9,456.1 287.8,460.8 288.6,456.3 289.4,459.5 290.3,465.8 291.1,463.3 291.9,449.4 292.8,449.3 293.6,441.7 294.4,476.6 295.3,464.7 296.1,460.8 296.9,450.8 297.8,483.2 298.6,453.1 299.4,434.8 300.3,440.4 301.1,457.1 301.9,428.7 302.8,429.9 303.6,448.8 304.4,433.8 305.3,451.0 306.1,430.4 306.9,444.4 307.8,452.8 308.6,448.4 309.4,452.6 310.3,441.5 311.1,440.6 311.9,442.1 312.8,449.3 313.6,476.4 314.4,446.0 315.3,465.6 316.1,441.9 316.9,428.8 317.8,437.8 318.6,446.6 319.4,444.9 320.3,444.1 321.1,449.0 321.9,449.9 322.8,454.0 323.6,429.0 324.4,440.9 325.3,430.4 326.1,443.8 326.9,441.2 327.8,443.8 328.6,436.4 329.4,431.3 330.3,437.8 331.1,449.3 331.9,451.7 332.8,422.6 333.6,443.0 334.4,445.1 335.3,424.2 336.1,426.5 336.9,433.4 337.8,445.3 338.6,413.3 339.4,433.6 340.3,433.8 341.1,442.4 341.9,458.2 342.8,458.7 343.6,437.8 344.4,435.8 345.3,443.2 346.1,455.1 346.9,459.5 347.8,446.5 348.6,458.7 349.4,431.6 350.3,425.8 351.1,406.7 351.9,426.4 352.8,410.2 353.6,451.6 354.4,474.5 355.3,452.0 356.1,443.8 356.9,429.2 357.8,432.1 358.6,432.6 359.4,437.2 360.3,432.3 361.1,422.3 361.9,451.6 362.8,447.2 363.6,458.0 364.4,422.8 365.3,423.1 366.1,429.8 366.9,453.9 367.8,439.8 368.6,443.3 369.4,439.9 370.2,442.8 371.1,434.5 371.9,444.7 372.7,430.7 373.6,436.7 374.4,443.7 375.2,442.2 376.1,446.1 376.9,431.3 377.7,442.9 378.6,437.2 379.4,445.0 380.2,459.0 381.1,431.5 381.9,452.4 382.7,433.5 383.6,434.8 384.4,460.0 385.2,453.9 386.1,448.1 386.9,451.2 387.7,455.9 388.6,433.2 389.4,442.7 390.2,436.1 391.1,445.3 391.9,437.4 392.7,449.3 393.6,441.8 394.4,433.6 395.2,439.3 396.1,446.0 396.9,454.3 397.7,439.9 398.6,436.3 399.4,443.3 400.2,450.2 401.1,435.0 401.9,409.9 402.7,441.2 403.6,436.5 404.4,435.6 405.2,471.2 406.1,442.1 406.9,449.3 407.7,424.7 408.6,442.1 409.4,450.1 410.2,444.2 411.1,438.9 411.9,447.2 412.7,441.9 413.6,457.1 414.4,445.0 415.2,431.6 416.1,415.8 416.9,429.5 417.7,436.2 418.6,425.8 419.4,426.7 420.2,419.0 421.1,425.3 421.9,440.5 422.7,437.4 423.6,438.1 424.4,479.1 425.2,437.7 426.1,449.8 426.9,467.0 427.7,451.4 428.6,466.3 429.4,442.3 430.2,440.7 431.1,460.9 431.9,434.2 432.7,429.4 433.6,438.3 434.4,420.1 435.2,415.8 436.1,452.8 436.9,429.2 437.7,434.1 438.6,434.8 439.4,428.6 440.2,448.1 441.1,448.5 441.9,451.4 442.7,450.8 443.6,442.8 444.4,458.5 445.2,455.1 446.1,435.0 446.9,440.9 447.7,435.9 448.6,463.1 449.4,452.4 450.2,448.5 451.1,441.0 451.9,447.8 452.7,429.9 453.6,440.2 454.4,440.3 455.2,440.4 456.1,431.9 456.9,445.5 457.7,427.4 458.6,433.6 459.4,438.0 460.2,439.8 461.1,434.1 461.9,427.5 462.7,427.7 463.6,434.7 464.4,429.3 465.2,438.0 466.1,425.0 466.9,439.3 467.7,465.8 468.6,426.8 469.4,437.9 470.2,454.6 471.1,444.4 471.9,451.7 472.7,416.0 473.6,432.0 474.4,458.9" fill="none" stroke="#ED7D31" stroke-width="1.0" stroke-linejoin="round" stroke-opacity="1"/>
<polyline points="57.8,497.9 58.6,442.4 59.5,426.1 60.3,440.1 61.1,451.2 62.0,434.8 62.8,436.3 63.6,437.0 64.5,450.1 65.3,432.0 66.1,420.7 67.0,446.7 67.8,426.0 68.6,437.1 69.5,416.1 70.3,428.5 71.1,434.5 72.0,425.3 72.8,428.7 73.6,437.6 74.5,428.6 75.3,436.9 76.1,447.5 77.0,419.5 77.8,434.8 78.6,438.3 79.5,431.5 80.3,445.2 81.1,445.0 82.0,438.5 82.8,438.0 83.6,433.5 84.5,425.0 85.3,436.3 86.1,430.1 87.0,428.6 87.8,441.3 88.6,432.6 89.5,440.7 90.3,426.1 91.1,429.3 92.0,433.0 92.8,443.8 93.6,433.7 94.5,439.5 95.3,428.8 96.1,434.1 97.0,440.0 97.8,427.2 98.6,427.6 99.5,437.7 100.3,425.3 101.1,435.2 102.0,436.3 102.8,433.1 103.6,439.6 104.5,437.8 105.3,435.5 106.1,422.3 107.0,421.2 107.8,434.7 108.6,421.7 109.5,433.1 110.3,431.0 111.1,426.9 112.0,431.1 112.8,415.2 113.6,430.3 114.5,442.9 115.3,424.9 116.1,436.4 117.0,436.7 117.8,455.9 118.6,428.8 119.5,427.4 120.3,427.4 121.1,426.0 122.0,420.4 122.8,433.3 123.6,427.0 124.5,439.3 125.3,437.6 126.1,426.5 127.0,430.6 127.8,444.3 128.6,432.6 129.5,435.7 130.3,440.9 131.1,431.8 132.0,437.4 132.8,447.0 133.6,444.4 134.5,421.8 135.3,445.1 136.1,433.9 137.0,429.8 137.8,429.2 138.6,443.6 139.5,438.1 140.3,434.0 141.1,428.4 142.0,438.7 142.8,443.4 143.6,426.7 144.5,423.8 145.3,428.9 146.1,436.6 147.0,429.1 147.8,430.3 148.6,424.4 149.5,439.7 150.3,430.6 151.1,431.9 152.0,439.4 152.8,429.8 153.6,430.3 154.5,433.8 155.3,427.9 156.1,441.4 157.0,432.1 157.8,427.4 158.6,428.1 159.5,422.0 160.3,439.2 161.1,443.3 161.9,430.0 162.8,427.0 163.6,413.7 164.4,424.1 165.3,436.8 166.1,424.9 166.9,436.7 167.8,442.9 168.6,411.4 169.4,426.2 170.3,424.6 171.1,425.6 171.9,415.9 172.8,426.9 173.6,420.7 174.4,437.7 175.3,442.3 176.1,420.6 176.9,418.0 177.8,425.4 178.6,428.3 179.4,429.1 180.3,435.9 181.1,419.1 181.9,424.3 182.8,426.0 183.6,427.2 184.4,422.0 185.3,425.8 186.1,424.3 186.9,439.2 187.8,427.5 188.6,413.1 189.4,433.0 190.3,431.9 191.1,423.7 191.9,422.4 192.8,424.9 193.6,442.8 194.4,427.9 195.3,439.7 196.1,438.1 196.9,427.0 197.8,432.6 198.6,424.4 199.4,408.4 200.3,421.9 201.1,424.0 201.9,437.1 202.8,436.4 203.6,439.6 204.4,435.8 205.3,439.8 206.1,436.8 206.9,432.9 207.8,438.8 208.6,442.7 209.4,442.6 210.3,428.2 211.1,429.9 211.9,422.4 212.8,421.5 213.6,432.4 214.4,425.5 215.3,441.6 216.1,413.6 216.9,419.4 217.8,431.2 218.6,440.0 219.4,428.5 220.3,445.3 221.1,438.3 221.9,425.4 222.8,429.5 223.6,434.4 224.4,423.4 225.3,438.2 226.1,429.1 226.9,434.5 227.8,437.8 228.6,427.6 229.4,438.3 230.3,416.2 231.1,433.9 231.9,415.0 232.8,437.8 233.6,426.5 234.4,439.8 235.3,442.3 236.1,430.5 236.9,425.2 237.8,440.3 238.6,422.1 239.4,436.2 240.3,430.1 241.1,427.5 241.9,425.6 242.8,444.5 243.6,419.0 244.4,425.0 245.3,433.5 246.1,439.1 246.9,445.1 247.8,443.0 248.6,427.5 249.4,433.1 250.3,440.0 251.1,435.8 251.9,418.6 252.8,432.1 253.6,435.5 254.4,420.2 255.3,425.9 256.1,429.8 256.9,435.4 257.8,443.6 258.6,441.4 259.4,435.6 260.3,432.9 261.1,428.0 261.9,425.9 262.8,428.4 263.6,428.6 264.4,438.6 265.3,443.3 266.1,425.6 266.9,427.8 267.8,425.6 268.6,422.4 269.4,429.9 270.3,429.5 271.1,410.2 271.9,418.8 272.8,424.8 273.6,416.0 274.4,421.0 275.3,427.9 276.1,406.1 276.9,404.3 277.8,423.5 278.6,410.5 279.4,407.4 280.3,407.8 281.1,428.2 281.9,408.7 282.8,423.6 283.6,429.6 284.4,431.5 285.3,426.4 286.1,431.9 286.9,435.8 287.8,425.8 288.6,442.6 289.4,448.4 290.3,434.0 291.1,433.5 291.9,430.3 292.8,448.1 293.6,432.0 294.4,435.6 295.3,425.1 296.1,450.1 296.9,440.1 297.8,443.6 298.6,455.9 299.4,449.5 300.3,432.4 301.1,445.4 301.9,449.2 302.8,435.0 303.6,432.5 304.4,432.3 305.3,449.5 306.1,444.3 306.9,433.3 307.8,449.0 308.6,451.5 309.4,436.1 310.3,427.4 311.1,453.3 311.9,470.2 312.8,460.6 313.6,455.3 314.4,446.2 315.3,437.8 316.1,444.5 316.9,450.7 317.8,442.9 318.6,453.1 319.4,445.1 320.3,450.2 321.1,417.9 321.9,433.1 322.8,451.0 323.6,454.4 324.4,449.2 325.3,460.7 326.1,452.8 326.9,452.1 327.8,436.0 328.6,447.4 329.4,452.1 330.3,458.0 331.1,457.0 331.9,446.0 332.8,446.3 333.6,433.1 334.4,449.2 335.3,434.1 336.1,440.5 336.9,443.8 337.8,463.9 338.6,458.9 339.4,438.3 340.3,429.8 341.1,440.7 341.9,436.3 342.8,447.5 343.6,448.2 344.4,451.2 345.3,435.3 346.1,440.0 346.9,446.2 347.8,447.8 348.6,439.2 349.4,440.7 350.3,452.2 351.1,428.2 351.9,440.3 352.8,443.9 353.6,429.8 354.4,432.9 355.3,444.2 356.1,439.2 356.9,454.6 357.8,451.9 358.6,467.6 359.4,434.8 360.3,462.4 361.1,439.7 361.9,452.3 362.8,455.1 363.6,447.6 364.4,442.3 365.3,438.4 366.1,426.6 366.9,439.4 367.8,435.5 368.6,449.8 369.4,438.2 370.2,442.6 371.1,449.2 371.9,446.2 372.7,445.6 373.6,443.1 374.4,440.7 375.2,449.5 376.1,452.7 376.9,438.3 377.7,461.1 378.6,452.7 379.4,430.4 380.2,470.3 381.1,454.4 381.9,439.2 382.7,460.8 383.6,421.0 384.4,468.3 385.2,433.2 386.1,428.6 386.9,434.4 387.7,446.3 388.6,441.8 389.4,453.7 390.2,438.1 391.1,455.6 391.9,449.0 392.7,435.8 393.6,455.4 394.4,450.0 395.2,444.2 396.1,458.6 396.9,435.3 397.7,441.1 398.6,460.1 399.4,447.5 400.2,453.4 401.1,452.9 401.9,445.6 402.7,452.7 403.6,436.8 404.4,451.8 405.2,436.6 406.1,445.3 406.9,437.3 407.7,450.3 408.6,451.3 409.4,457.8 410.2,441.4 411.1,436.2 411.9,424.1 412.7,431.1 413.6,442.1 414.4,447.8 415.2,442.4 416.1,446.0 416.9,431.7 417.7,435.4 418.6,453.4 419.4,453.8 420.2,433.5 421.1,442.0 421.9,448.2 422.7,434.8 423.6,449.1 424.4,449.4 425.2,451.3 426.1,466.4 426.9,439.9 427.7,457.8 428.6,453.3 429.4,454.6 430.2,440.2 431.1,446.7 431.9,446.5 432.7,463.3 433.6,449.3 434.4,461.6 435.2,445.2 436.1,443.0 436.9,446.6 437.7,426.7 438.6,439.7 439.4,440.3 440.2,444.9 441.1,448.7 441.9,437.6 442.7,435.2 443.6,458.8 444.4,437.9 445.2,441.1 446.1,437.1 446.9,441.6 447.7,459.0 448.6,460.0 449.4,430.5 450.2,443.1 451.1,460.9 451.9,445.3 452.7,450.8 453.6,466.0 454.4,472.0 455.2,465.8 456.1,446.7 456.9,447.9 457.7,450.1 458.6,445.0 459.4,441.4 460.2,467.8 461.1,452.7 461.9,456.4 462.7,460.8 463.6,454.5 464.4,449.7 465.2,450.7 466.1,462.5 466.9,454.1 467.7,428.6 468.6,456.5 469.4,465.5 470.2,447.1 471.1,442.1 471.9,442.9 472.7,458.7 473.6,439.3 474.4,455.1" fill="none" stroke="#A5A5A5" stroke-width="1.0" stroke-linejoin="round" stroke-opacity="1"/>
<line x1="57.8" y1="322.50" x2="57.8" y2="497.85" stroke="#ABABAB" stroke-width="1.6"/>
<line x1="57.4" y1="497.85" x2="474.8" y2="497.85" stroke="#ABABAB" stroke-width="1.6"/>
<text x="5.14" y="22.60" font-size="20.49" text-anchor="start" textLength="13.67" lengthAdjust="spacingAndGlyphs" font-family="Liberation Sans, sans-serif" font-weight="bold" fill="#000" stroke="#000" stroke-width="0.3">A</text>
<text x="5.65" y="294.42" font-size="21.13" text-anchor="start" textLength="12.21" lengthAdjust="spacingAndGlyphs" font-family="Liberation Sans, sans-serif" font-weight="bold" fill="#000" stroke="#000" stroke-width="0.3">B</text>
<text x="279.35" y="29.40" font-size="14.10" text-anchor="middle" textLength="94.54" lengthAdjust="spacingAndGlyphs" font-family="Liberation Sans, sans-serif" font-weight="bold" fill="#000" stroke="#000" stroke-width="0.3">Protein RMSD</text>
<text x="278.73" y="303.98" font-size="14.10" text-anchor="middle" textLength="71.96" lengthAdjust="spacingAndGlyphs" font-family="Liberation Sans, sans-serif" font-weight="bold" fill="#000" stroke="#000" stroke-width="0.3">Zinc RMSD</text>
<text x="265.01" y="265.90" font-size="13.60" text-anchor="middle" textLength="53.99" lengthAdjust="spacingAndGlyphs" font-family="Liberation Sans, sans-serif" font-weight="bold" fill="#000" stroke="#000" stroke-width="0.3">Time(ns)</text>
<text x="265.97" y="540.90" font-size="13.60" text-anchor="middle" textLength="53.59" lengthAdjust="spacingAndGlyphs" font-family="Liberation Sans, sans-serif" font-weight="bold" fill="#000" stroke="#000" stroke-width="0.3">Time(ns)</text>
<text transform="translate(27.00,132.96) rotate(-90)" x="0" y="0" font-size="14.10" text-anchor="middle" textLength="58.14" lengthAdjust="spacingAndGlyphs" font-family="Liberation Sans, sans-serif" font-weight="bold" fill="#000" stroke="#000" stroke-width="0.3">RMSD(Å)</text>
<text transform="translate(24.40,409.81) rotate(-90)" x="0" y="0" font-size="14.10" text-anchor="middle" textLength="58.40" lengthAdjust="spacingAndGlyphs" font-family="Liberation Sans, sans-serif" font-weight="bold" fill="#000" stroke="#000" stroke-width="0.3">RMSD(Å)</text>
<text x="43.00" y="227.30" font-size="13.8" text-anchor="end" textLength="8.29" lengthAdjust="spacingAndGlyphs" font-family="Liberation Sans, sans-serif" font-weight="bold" fill="#000" stroke="#000" stroke-width="0.3">0</text>
<text x="43.00" y="168.63" font-size="13.8" text-anchor="end" textLength="8.29" lengthAdjust="spacingAndGlyphs" font-family="Liberation Sans, sans-serif" font-weight="bold" fill="#000" stroke="#000" stroke-width="0.3">1</text>
<text x="43.00" y="109.96" font-size="13.8" text-anchor="end" textLength="8.29" lengthAdjust="spacingAndGlyphs" font-family="Liberation Sans, sans-serif" font-weight="bold" fill="#000" stroke="#000" stroke-width="0.3">2</text>
<text x="43.00" y="51.29" font-size="13.8" text-anchor="end" textLength="8.29" lengthAdjust="spacingAndGlyphs" font-family="Liberation Sans, sans-serif" font-weight="bold" fill="#000" stroke="#000" stroke-width="0.3">3</text>
<text x="56.90" y="246.80" font-size="13.8" text-anchor="middle" textLength="8.29" lengthAdjust="spacingAndGlyphs" font-family="Liberation Sans, sans-serif" font-weight="bold" fill="#000" stroke="#000" stroke-width="0.3">0</text>
<text x="98.55" y="246.80" font-size="13.8" text-anchor="middle" textLength="8.29" lengthAdjust="spacingAndGlyphs" font-family="Liberation Sans, sans-serif" font-weight="bold" fill="#000" stroke="#000" stroke-width="0.3">5</text>
<text x="140.20" y="246.80" font-size="13.8" text-anchor="middle" textLength="15.35" lengthAdjust="spacingAndGlyphs" font-family="Liberation Sans, sans-serif" font-weight="bold" fill="#000" stroke="#000" stroke-width="0.3">10</text>
<text x="181.85" y="246.80" font-size="13.8" text-anchor="middle" textLength="15.35" lengthAdjust="spacingAndGlyphs" font-family="Liberation Sans, sans-serif" font-weight="bold" fill="#000" stroke="#000" stroke-width="0.3">15</text>
<text x="223.50" y="246.80" font-size="13.8" text-anchor="middle" textLength="15.35" lengthAdjust="spacingAndGlyphs" font-family="Liberation Sans, sans-serif" font-weight="bold" fill="#000" stroke="#000" stroke-width="0.3">20</text>
<text x="265.15" y="246.80" font-size="13.8" text-anchor="middle" textLength="15.35" lengthAdjust="spacingAndGlyphs" font-family="Liberation Sans, sans-serif" font-weight="bold" fill="#000" stroke="#000" stroke-width="0.3">25</text>
<text x="306.80" y="246.80" font-size="13.8" text-anchor="middle" textLength="15.35" lengthAdjust="spacingAndGlyphs" font-family="Liberation Sans, sans-serif" font-weight="bold" fill="#000" stroke="#000" stroke-width="0.3">30</text>
<text x="348.45" y="246.80" font-size="13.8" text-anchor="middle" textLength="15.35" lengthAdjust="spacingAndGlyphs" font-family="Liberation Sans, sans-serif" font-weight="bold" fill="#000" stroke="#000" stroke-width="0.3">35</text>
<text x="390.10" y="246.80" font-size="13.8" text-anchor="middle" textLength="15.35" lengthAdjust="spacingAndGlyphs" font-family="Liberation Sans, sans-serif" font-weight="bold" fill="#000" stroke="#000" stroke-width="0.3">40</text>
<text x="431.75" y="246.80" font-size="13.8" text-anchor="middle" textLength="15.35" lengthAdjust="spacingAndGlyphs" font-family="Liberation Sans, sans-serif" font-weight="bold" fill="#000" stroke="#000" stroke-width="0.3">45</text>
<text x="473.40" y="246.80" font-size="13.8" text-anchor="middle" textLength="15.35" lengthAdjust="spacingAndGlyphs" font-family="Liberation Sans, sans-serif" font-weight="bold" fill="#000" stroke="#000" stroke-width="0.3">50</text>
<text x="44.00" y="502.45" font-size="13.8" text-anchor="end" textLength="8.29" lengthAdjust="spacingAndGlyphs" font-family="Liberation Sans, sans-serif" font-weight="bold" fill="#000" stroke="#000" stroke-width="0.3">0</text>
<text x="44.00" y="444.00" font-size="13.8" text-anchor="end" textLength="8.29" lengthAdjust="spacingAndGlyphs" font-family="Liberation Sans, sans-serif" font-weight="bold" fill="#000" stroke="#000" stroke-width="0.3">1</text>
<text x="44.00" y="385.55" font-size="13.8" text-anchor="end" textLength="8.29" lengthAdjust="spacingAndGlyphs" font-family="Liberation Sans, sans-serif" font-weight="bold" fill="#000" stroke="#000" stroke-width="0.3">2</text>
<text x="44.00" y="327.10" font-size="13.8" text-anchor="end" textLength="8.29" lengthAdjust="spacingAndGlyphs" font-family="Liberation Sans, sans-serif" font-weight="bold" fill="#000" stroke="#000" stroke-width="0.3">3</text>
<text x="57.80" y="521.80" font-size="13.8" text-anchor="middle" textLength="8.29" lengthAdjust="spacingAndGlyphs" font-family="Liberation Sans, sans-serif" font-weight="bold" fill="#000" stroke="#000" stroke-width="0.3">0</text>
<text x="99.46" y="521.80" font-size="13.8" text-anchor="middle" textLength="8.29" lengthAdjust="spacingAndGlyphs" font-family="Liberation Sans, sans-serif" font-weight="bold" fill="#000" stroke="#000" stroke-width="0.3">5</text>
<text x="141.12" y="521.80" font-size="13.8" text-anchor="middle" textLength="15.35" lengthAdjust="spacingAndGlyphs" font-family="Liberation Sans, sans-serif" font-weight="bold" fill="#000" stroke="#000" stroke-width="0.3">10</text>
<text x="182.78" y="521.80" font-size="13.8" text-anchor="middle" textLength="15.35" lengthAdjust="spacingAndGlyphs" font-family="Liberation Sans, sans-serif" font-weight="bold" fill="#000" stroke="#000" stroke-width="0.3">15</text>
<text x="224.44" y="521.80" font-size="13.8" text-anchor="middle" textLength="15.35" lengthAdjust="spacingAndGlyphs" font-family="Liberation Sans, sans-serif" font-weight="bold" fill="#000" stroke="#000" stroke-width="0.3">20</text>
<text x="266.10" y="521.80" font-size="13.8" text-anchor="middle" textLength="15.35" lengthAdjust="spacingAndGlyphs" font-family="Liberation Sans, sans-serif" font-weight="bold" fill="#000" stroke="#000" stroke-width="0.3">25</text>
<text x="307.76" y="521.80" font-size="13.8" text-anchor="middle" textLength="15.35" lengthAdjust="spacingAndGlyphs" font-family="Liberation Sans, sans-serif" font-weight="bold" fill="#000" stroke="#000" stroke-width="0.3">30</text>
<text x="349.42" y="521.80" font-size="13.8" text-anchor="middle" textLength="15.35" lengthAdjust="spacingAndGlyphs" font-family="Liberation Sans, sans-serif" font-weight="bold" fill="#000" stroke="#000" stroke-width="0.3">35</text>
<text x="391.08" y="521.80" font-size="13.8" text-anchor="middle" textLength="15.35" lengthAdjust="spacingAndGlyphs" font-family="Liberation Sans, sans-serif" font-weight="bold" fill="#000" stroke="#000" stroke-width="0.3">40</text>
<text x="432.74" y="521.80" font-size="13.8" text-anchor="middle" textLength="15.35" lengthAdjust="spacingAndGlyphs" font-family="Liberation Sans, sans-serif" font-weight="bold" fill="#000" stroke="#000" stroke-width="0.3">45</text>
<text x="474.40" y="521.80" font-size="13.8" text-anchor="middle" textLength="15.35" lengthAdjust="spacingAndGlyphs" font-family="Liberation Sans, sans-serif" font-weight="bold" fill="#000" stroke="#000" stroke-width="0.3">50</text>
<line x1="492.3" y1="134.40" x2="506.9" y2="134.40" stroke="#5B9BD5" stroke-width="1.2"/>
<text x="507.71" y="138.90" font-size="13.60" text-anchor="start" textLength="34.43" lengthAdjust="spacingAndGlyphs" font-family="Liberation Sans, sans-serif" font-weight="bold" fill="#000" stroke="#000" stroke-width="0.3">MD-1</text>
<line x1="492.3" y1="156.65" x2="506.9" y2="156.65" stroke="#ED7D31" stroke-width="1.2"/>
<text x="507.71" y="161.15" font-size="13.60" text-anchor="start" textLength="34.43" lengthAdjust="spacingAndGlyphs" font-family="Liberation Sans, sans-serif" font-weight="bold" fill="#000" stroke="#000" stroke-width="0.3">MD-2</text>
<line x1="492.3" y1="178.90" x2="506.9" y2="178.90" stroke="#A5A5A5" stroke-width="1.2"/>
<text x="507.71" y="183.40" font-size="13.60" text-anchor="start" textLength="34.43" lengthAdjust="spacingAndGlyphs" font-family="Liberation Sans, sans-serif" font-weight="bold" fill="#000" stroke="#000" stroke-width="0.3">MD-3</text>
<line x1="492.9" y1="410.10" x2="507.5" y2="410.10" stroke="#5B9BD5" stroke-width="1.2"/>
<text x="508.61" y="414.60" font-size="13.60" text-anchor="start" textLength="34.43" lengthAdjust="spacingAndGlyphs" font-family="Liberation Sans, sans-serif" font-weight="bold" fill="#000" stroke="#000" stroke-width="0.3">MD-1</text>
<line x1="492.9" y1="432.40" x2="507.5" y2="432.40" stroke="#ED7D31" stroke-width="1.2"/>
<text x="508.61" y="436.90" font-size="13.60" text-anchor="start" textLength="34.43" lengthAdjust="spacingAndGlyphs" font-family="Liberation Sans, sans-serif" font-weight="bold" fill="#000" stroke="#000" stroke-width="0.3">MD-2</text>
<line x1="492.9" y1="454.70" x2="507.5" y2="454.70" stroke="#A5A5A5" stroke-width="1.2"/>
<text x="508.61" y="459.20" font-size="13.60" text-anchor="start" textLength="34.43" lengthAdjust="spacingAndGlyphs" font-family="Liberation Sans, sans-serif" font-weight="bold" fill="#000" stroke="#000" stroke-width="0.3">MD-3</text>
</svg>
</body></html>
